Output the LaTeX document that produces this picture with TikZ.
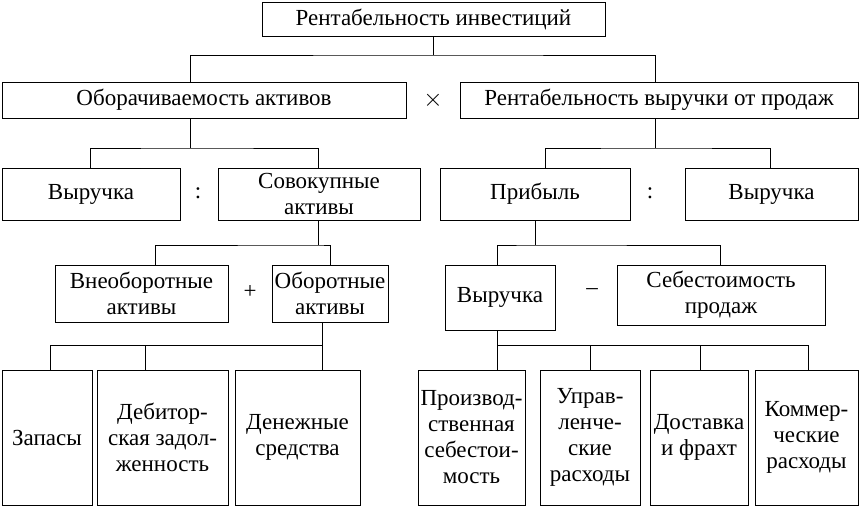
\documentclass[tikz,border=0pt]{standalone}
\usepackage{fontspec}
\setmainfont{Liberation Serif}
\usetikzlibrary{positioning}
\tikzset{blk/.style={draw=black, thick, fill=white, rectangle, align=center, inner sep=0pt,
    font=\fontsize{23}{26}\selectfont},
  op/.style={font=\fontsize{23}{26}\selectfont},
  link/.style={draw=black, thick}}
% box from corner coordinates
\newcommand{\blkbox}[6]{\node[blk, minimum width=#4-#2, minimum height=#5-#3] (#1) at ({(#2+#4)/2},{(#3+#5)/2}) {#6};}

\begin{document}
\begin{tikzpicture}[x=1pt, y=-1pt]
  \useasboundingbox (0,0) rectangle (860,510);
  \blkbox{top}{262}{2}{605}{36}{Рентабельность инвестиций}
  \blkbox{turn}{2}{82}{406}{118}{Оборачиваемость активов}
  \blkbox{ros}{460}{82}{858}{118}{Рентабельность выручки от продаж}
  \node[op] (x1) at (433,100) {$\times$};
  % third row
  \blkbox{rev1}{2}{168}{180}{220}{Выручка}
  \blkbox{tot}{218}{168}{420}{220}{Совокупные\\активы}
  \node[op] (d1) at (198,193) {:};
  \blkbox{prof}{440}{168}{630}{220}{Прибыль}
  \blkbox{rev2}{685}{168}{858}{220}{Выручка}
  \node[op] (d2) at (650,193) {:};
  % fourth row
  \blkbox{fix}{55}{265}{228}{322}{Внеоборотные\\активы}
  \blkbox{cur}{272}{265}{388}{322}{Оборотные\\активы}
  \node[op] (p1) at (250,292) {+};
  \blkbox{rev3}{445}{265}{555}{330}{Выручка}
  \blkbox{cost}{617}{265}{825}{325}{Себестоимость\\продаж}
  \node[op] (m1) at (592,292) {--};
  % bottom row
  \blkbox{stock}{2}{370}{92}{505}{Запасы}
  \blkbox{debt}{97}{370}{228}{505}{Дебитор-\\ская задол-\\женность}
  \blkbox{cash}{235}{370}{360}{505}{Денежные\\средства}
  \blkbox{prod}{418}{370}{525}{505}{Производ-\\ственная\\себестои-\\мость}
  \blkbox{adm}{540}{370}{640}{505}{Управ-\\ленче-\\ские\\расходы}
  \blkbox{ship}{650}{370}{748}{505}{Доставка\\и фрахт}
  \blkbox{sell}{755}{370}{858}{505}{Коммер-\\ческие\\расходы}
  % connectors
  \draw[link] (top.south) -- (top.south |- 0,55) coordinate (j1);
  \draw[link] (turn.north -| 190,0) |- (j1) -| (ros.north -| 655,0);
  \draw[link] (turn.south -| 190,0) -- (190,148) coordinate (j2);
  \draw[link] (rev1.north -| 90,0) |- (j2) -| (tot.north -| 318,0);
  \draw[link] (ros.south -| 655,0) -- (655,148) coordinate (j3);
  \draw[link] (prof.north -| 545,0) |- (j3) -| (rev2.north -| 770,0);
  \draw[link] (tot.south -| 318,0) -- (318,245) coordinate (j4);
  \draw[link] (fix.north -| 155,0) |- (j4) -| (cur.north -| 330,0);
  \draw[link] (prof.south -| 535,0) -- (535,245) coordinate (j5);
  \draw[link] (rev3.north -| 497,0) |- (j5) -| (cost.north -| 720,0);
  \draw[link] (cur.south -| 322,0) -- (cash.north -| 322,0);
  \draw[link] (stock.north -| 50,0) |- (322,345);
  \draw[link] (debt.north -| 145,0) -- (145,345);
  \draw[link] (rev3.south -| 497,0) -- (prod.north -| 497,0);
  \draw[link] (497,345) -| (sell.north -| 808,0);
  \draw[link] (adm.north -| 590,0) -- (590,345);
  \draw[link] (ship.north -| 700,0) -- (700,345);
\end{tikzpicture}
\end{document}
